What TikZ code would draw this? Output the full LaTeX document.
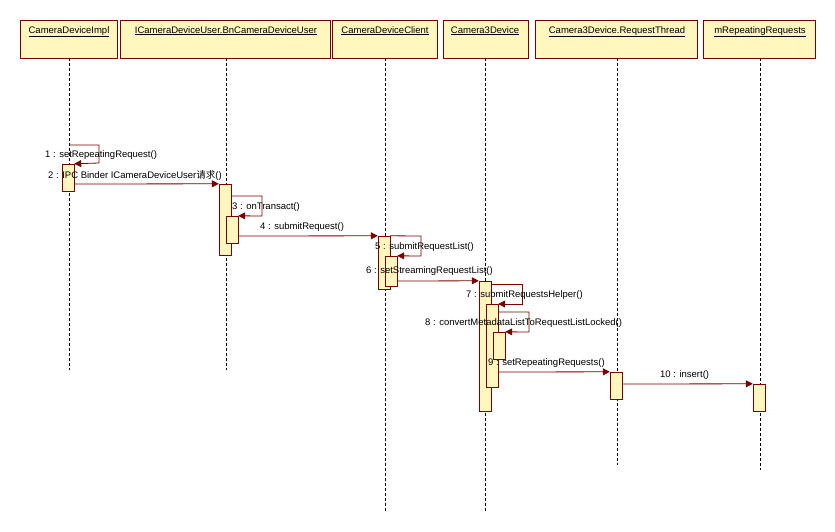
\documentclass[tikz,border=0pt]{standalone}
\usepackage{fontspec}
\setmainfont{Liberation Sans}
\newfontfamily\cjk{Noto Sans CJK SC}
\usetikzlibrary{arrows.meta}
\definecolor{bx}{HTML}{FFF7BE}
\definecolor{ln}{HTML}{7A0000}
\begin{document}
\begin{tikzpicture}[x=1pt,y=-1pt,
  hdr/.style={draw=ln,fill=bx,minimum height=38pt,anchor=north west,inner sep=0pt},
  htxt/.style={font=\fontsize{9.5}{11}\selectfont,anchor=north,inner sep=0pt},
  act/.style={draw=ln,fill=bx,inner sep=0pt,minimum width=12pt},
  life/.style={densely dashed,black,line width=0.6pt},
  msg/.style={draw=ln,line width=0.8pt,-{Triangle[length=7pt,width=7pt]}},
  lbl/.style={font=\fontsize{9.5}{11}\selectfont,inner sep=0pt,anchor=west}]
\useasboundingbox (0,0) rectangle (835,532);
% headers
\node[hdr,minimum width=97pt] (h1) at (20,20) {};
\node[hdr,minimum width=210pt] (h2) at (120,20) {};
\node[hdr,minimum width=105pt] (h3) at (332,20) {};
\node[hdr,minimum width=85pt] (h4) at (443,20) {};
\node[hdr,minimum width=162pt] (h5) at (535,20) {};
\node[hdr,minimum width=112pt] (h6) at (703,20) {};
\node[htxt] (t1) at (69,26) {\underline{CameraDeviceImpl}};
\node[htxt] (t2) at (226,26) {\underline{ICameraDeviceUser.BnCameraDeviceUser}};
\node[htxt] (t3) at (385,26) {\underline{CameraDeviceClient}};
\node[htxt] (t4) at (485,26) {\underline{Camera3Device}};
\node[htxt] (t5) at (617,26) {\underline{Camera3Device.RequestThread}};
\node[htxt] (t6) at (760,26) {\underline{mRepeatingRequests}};
% lifelines
\coordinate (e1) at (69,370);
\coordinate (e2) at (226,370);
\coordinate (e3) at (385,512);
\coordinate (e4) at (485,512);
\coordinate (e5) at (617,465);
\coordinate (e6) at (760,470);
\draw[life] (69,58) -- (e1);
\draw[life] (226,58) -- (e2);
\draw[life] (385,58) -- (e3);
\draw[life] (485,58) -- (e4);
\draw[life] (617,58) -- (e5);
\draw[life] (760,58) -- (e6);
% activations
\node[act,minimum height=27pt] (a1) at (68,177.5) {};
\node[act,minimum height=71pt] (a2) at (225,219.5) {};
\node[act,minimum height=27pt] (a3) at (232,229.5) {};
\node[act,minimum height=53pt] (a4) at (384,262.5) {};
\node[act,minimum height=30pt] (a5) at (391,271) {};
\node[act,minimum height=130pt] (a6) at (485,346) {};
\node[act,minimum height=83pt] (a7) at (492,345.5) {};
\node[act,minimum height=27pt] (a8) at (499,345.5) {};
\node[act,minimum height=27pt] (a9) at (616,385.5) {};
\node[act,minimum height=27pt] (a10) at (759,397.5) {};
% messages
\draw[msg] (69,145) -- (99,145) -- (99,163) -- (a1.north east);
\draw[msg] (a1.east |- 0,184) -- (a2.north west);
\draw[msg] (a2.north east |- 0,196) -- (262,196) -- (262,216) -- (a3.north east);
\draw[msg] (a3.east |- 0,236) -- (a4.north west);
\draw[msg] (a4.north east) -- (421,236) -- (421,256) -- (a5.north east);
\draw[msg] (a5.east |- 0,281) -- (a6.north west);
\draw[msg] (a6.north east |- 0,284) -- (522,284) -- (522,304) -- (a7.north east |- 0,304);
\draw[msg] (a7.north east |- 0,312) -- (529,312) -- (529,332) -- (a8.north east);
\draw[msg] (a7.east |- 0,372) -- (a9.north west);
\draw[msg] (a9.east |- 0,384) -- (a10.north west);
% labels
\node[lbl] (l1) at (45,155) {1 : setRepeatingRequest()};
\node[lbl] (l2) at (48,175) {2 : IPC Binder ICameraDeviceUser{\cjk 请求}()};
\node[lbl] (l3) at (232,207) {3 : onTransact()};
\node[lbl] (l4) at (260,227) {4 : submitRequest()};
\node[lbl] (l5) at (375,247) {5 : submitRequestList()};
\node[lbl] (l6) at (366,271) {6 : setStreamingRequestList()};
\node[lbl] (l7) at (466,295) {7 : submitRequestsHelper()};
\node[lbl] (l8) at (425,323) {8 : convertMetadataListToRequestListLocked()};
\node[lbl] (l9) at (488,363) {9 : setRepeatingRequests()};
\node[lbl] (l10) at (660,375) {10 : insert()};
\end{tikzpicture}
\end{document}
